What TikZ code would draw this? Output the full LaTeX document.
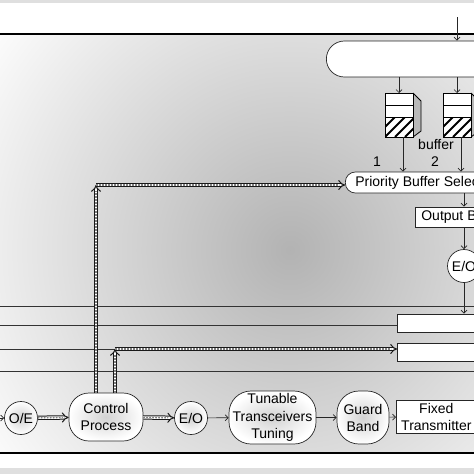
\documentclass[tikz,border=0pt]{standalone}
\usepackage{fontspec}
\setmainfont{Liberation Sans}
\usetikzlibrary{arrows.meta,positioning,calc}
\tikzset{
	box/.style={draw=black!85, line width=0.7pt, fill=white, rectangle, inner sep=0pt},
	pill/.style={box, rounded corners=10pt},
	soft/.style={inner color=gray!35, outer color=white},
	ring/.style={draw=black!85, line width=0.7pt, circle, fill=white, inner sep=0pt, minimum size=33pt},
	arr/.style={draw=black!85, line width=0.7pt, -{Straight Barb[length=3pt,width=6pt]}},
	dbl/.style={draw=black!90, line width=1pt, double=white, double distance=2.4pt, -{Implies},
		postaction={draw=black!50, double=black!50, line width=0.3pt, double distance=0.8pt, dash pattern=on 1.6pt off 1.4pt, -, shorten >=6pt}},
	rule/.style={draw=black!80, line width=0.7pt},
	thick rule/.style={draw=black, line width=1.4pt}
}
\begin{document}
	\begin{tikzpicture}[x=1pt, y=-1pt, font=\fontsize{14}{17}\selectfont]
		\useasboundingbox (0,0) rectangle (474,474);
		\clip (0,0) rectangle (474,474);
		\fill[gray!25] (0,0) rectangle (474,3);
		\fill[gray!25] (0,468) rectangle (474,474);
		\begin{scope}
			\clip (0,34) rectangle (474,453);
			\shade[inner color=gray!60, outer color=white] (290,250) circle (380);
		\end{scope}
		\draw[thick rule] (0,34) -- (474,34);
		\draw[thick rule] (0,453) -- (474,453);

		\node (sw) [box, rounded corners=18pt, anchor=west, minimum width=250pt, minimum height=36pt] at (326,59) {};
		\node (psel) [pill, anchor=west, minimum height=21pt, inner xsep=10pt] at (345,182.5) {Priority Buffer Selector};
		\node (obuf) [box, anchor=west, minimum height=20pt, inner xsep=6pt] at (415,217) {Output Buffer};
		\node (eoR) [ring] at (464,266) {E/O};
		\node (upbox) [box, anchor=west, minimum width=120pt, minimum height=18pt] at (397,323) {};
		\node (lowbox) [box, anchor=west, minimum width=120pt, minimum height=18pt] at (397,352) {};

		\foreach \bx/\n in {385/1, 443/2} {
			\fill[gray!55] (\bx+28,93) -- (\bx+36,101) -- (\bx+36,131) -- (\bx+28,137) -- cycle;
			\draw[line width=0.8pt] (\bx+28,93) -- (\bx+36,101) -- (\bx+36,131) -- (\bx+28,137);
			\draw[line width=0.8pt, fill=white] (\bx,93) rectangle (\bx+28,117);
			\draw[line width=0.8pt] (\bx,105) -- (\bx+28,105);
			\begin{scope}
				\clip (\bx,117) rectangle (\bx+28,137);
				\fill[white] (\bx,117) rectangle (\bx+28,137);
				\foreach \k in {0,...,4}
					\draw[line width=2pt] (\bx-20+\k*10,137) -- ++(20,-20);
			\end{scope}
			\draw[line width=0.8pt] (\bx,117) rectangle (\bx+28,137);
			\coordinate (bt\n) at (\bx+14,93);
			\coordinate (bb\n) at (\bx+18,137);
			\draw[arr] (bt\n |- sw.south) -- (bt\n);
			\draw[arr] (bb\n) -- (bb\n |- psel.north);
		}
		\node at (436,144) {buffer};
		\node at (377,162) {1};
		\node at (435,162) {2};

		\coordinate (in) at (457,17);
		\draw[arr] (in) -- (in |- sw.north);
		\draw[arr] (464,0 |- psel.south) -- (464,0 |- obuf.north);
		\draw[arr] (464,0 |- obuf.south) -- (eoR);
		\draw[arr] (eoR) -- (eoR |- upbox.north);

		\draw[rule] (0,306) -- (474,306);
		\draw[rule] (0,325) -- (upbox.west |- 0,325);
		\draw[rule] (0,371) -- (474,371);

		\node (oe) [ring, soft] at (21,418) {O/E};
		\node (cp) [pill, soft, rounded corners=20pt, minimum width=74pt, minimum height=48pt, align=center] at (106,417) {Control\\Process};
		\node (eo) [ring, soft] at (191,418) {E/O};
		\node (tune) [pill, soft, rounded corners=22pt, minimum width=87pt, minimum height=53pt, align=center, font=\fontsize{14}{17.5}\selectfont] at (272.5,417.5) {Tunable\\Transceivers\\Tuning};
		\node (guard) [pill, soft, rounded corners=22pt, minimum width=52pt, minimum height=53pt, align=center] at (363,417.5) {Guard\\Band};
		\node (fixed) [box, anchor=west, minimum width=80pt, minimum height=33pt, align=center] at (396,416.5) {Fixed\\Transmitter};

		\coordinate (c1) at (96,185);
		\coordinate (c2) at (115,349);
		\draw[rule] (0,349) -- (c2);

		\draw[arr] (-10,418) -- (oe);
		\draw[dbl] (oe) -- (cp);
		\draw[dbl] (cp) -- (eo);
		\draw[arr] (eo) -- (tune);
		\draw[arr] (tune) -- (guard);
		\draw[arr] (guard) -- (fixed);

		\draw[dbl] (cp.north -| c1) -- (c1);
		\draw[dbl] (c1) -- (c1 -| psel.west);
		\draw[dbl] (cp.north -| c2) -- (c2);
		\draw[dbl] (c2) -- (c2 -| lowbox.west);
	\end{tikzpicture}
\end{document}
